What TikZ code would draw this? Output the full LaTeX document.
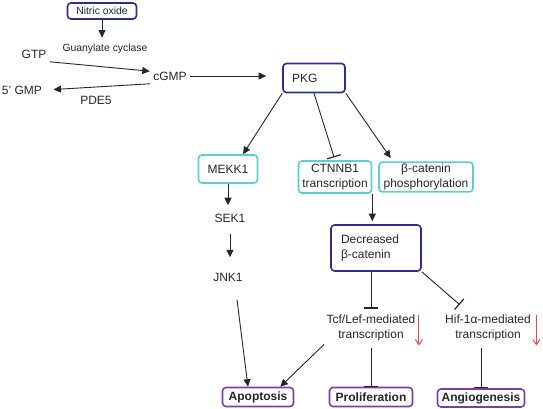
\documentclass[tikz,border=0pt]{standalone}
\usepackage{fontspec}
\setmainfont{Liberation Sans}
\usetikzlibrary{arrows.meta}

\definecolor{navybox}{HTML}{2B2F8F}
\definecolor{cyanbox}{HTML}{5ACFD0}
\definecolor{purplebox}{HTML}{7A3EA8}
\definecolor{redarrow}{HTML}{E04A4A}
\definecolor{inkgray}{HTML}{262626}

\tikzset{
  every node/.style={font=\fontsize{12}{14.5}\selectfont, text=inkgray},
  smalltext/.style={font=\fontsize{10.4}{12}\selectfont},
  rbox/.style={draw, rounded corners=3.5pt, line width=1.6pt},
  navy/.style={rbox, draw=navybox},
  cyanb/.style={rbox, draw=cyanbox, align=center, inner sep=2pt},
  purp/.style={rbox, draw=purplebox, inner sep=1.5pt, font=\bfseries\fontsize{12}{14}\selectfont},
  act/.style={-{Triangle[length=7.5pt,width=7pt]}, line width=0.9pt, draw=inkgray},
  inh/.style={-{Bar[width=14pt,line width=1.2pt]}, line width=0.9pt, draw=inkgray},
  down/.style={-{Straight Barb[length=5pt,width=7pt]}, draw=redarrow, line width=1pt},
}

\begin{document}
\begin{tikzpicture}[x=1pt,y=-1pt]
  \useasboundingbox (0,0) rectangle (543,408);

  % nitric oxide / cGMP part
  \node[navy, smalltext, minimum width=69pt, minimum height=16pt, inner sep=1pt] (no) at (102,11) {Nitric oxide};
  \node[smalltext] (gc) at (105,49) {Guanylate cyclase};
  \node (gtp) at (34,54) {GTP};
  \node (cgmp) at (170,76) {cGMP};
  \node (gmp) at (22,90) {5' GMP};
  \node (pde) at (96,100) {PDE5};
  \node[navy, minimum height=29pt, inner xsep=9pt, text width=44pt, align=left] (pkg) at (314,78) {PKG};

  % second row
  \node[cyanb, minimum width=59pt, minimum height=28pt] (mekk) at (228,169) {MEKK1};
  \node[cyanb, minimum width=73pt, minimum height=32pt] (ctnnb) at (335,177) {CTNNB1\\transcription};
  \node[cyanb, minimum width=94pt, minimum height=28pt] (bcat) at (426,177) {β-catenin\\phosphorylation};

  % JNK branch
  \node (sek) at (230,218) {SEK1};
  \node (jnk) at (228,277) {JNK1};

  % beta-catenin branch
  \node[navy, minimum height=46pt, inner xsep=10pt, text width=70pt, align=left] (dec) at (376,248) {Decreased\\β-catenin};
  \node[align=center] (tcf) at (371,328) {Tcf/Lef-mediated\\transcription};
  \node[align=center] (hif) at (488,328) {Hif-1α-mediated\\transcription};

  % outcomes
  \node[purp, minimum width=71pt, minimum height=19pt] (apop) at (258,397) {Apoptosis};
  \node[purp, minimum width=83pt, minimum height=19pt] (prol) at (371,397) {Proliferation};
  \node[purp, minimum width=87pt, minimum height=18pt] (angio) at (481,398) {Angiogenesis};

  % connectors
  \draw[act, shorten >=3pt] (no) -- (no |- gc.north);
  \draw[act] (gtp.south east) -- ([yshift=-3pt]cgmp.north west);
  \draw[act, shorten >=8pt] (cgmp.south west) -- (gmp.east);
  \draw[act, shorten >=16pt] (cgmp.east) -- (cgmp.east -| pkg.west);

  \draw[act] (pkg.south west) -- ([xshift=15pt]mekk.north);
  \draw[inh, shorten >=3pt] (pkg.south) -- (ctnnb.north);
  \draw[act, shorten >=4pt] (pkg.south east) -- ([xshift=-33pt]bcat.north);

  \draw[act, shorten >=5pt] (mekk) -- (mekk |- sek.north);
  \draw[act, shorten <=8pt, shorten >=12pt] (sek) -- (sek |- jnk.north);
  \draw[act] ([shift={(9pt,-15pt)}]jnk.south) -- ([xshift=-10pt]apop.north);
  \draw[act] ([xshift=1pt]tcf.south west) -- ([xshift=-14pt]apop.north east);

  \draw[act, shorten >=3pt] (ctnnb.south east) -- (ctnnb.south east |- dec.north);
  \draw[inh, shorten >=3pt] (tcf.north |- dec.south) -- (tcf.north);
  \draw[inh] (dec.south east) -- ([shift={(18pt,7pt)}]hif.north west);
  \draw[inh, shorten <=4pt] (tcf.south) -- (prol.north);
  \draw[inh, shorten <=4pt] (angio.north |- hif.south) -- (angio.north);

  \draw[down] ([yshift=-3pt]tcf.north east) -- ([yshift=-1pt]tcf.south east);
  \draw[down] ([shift={(2pt,-3pt)}]hif.north east) -- ([shift={(2pt,-1pt)}]hif.south east);
\end{tikzpicture}
\end{document}
